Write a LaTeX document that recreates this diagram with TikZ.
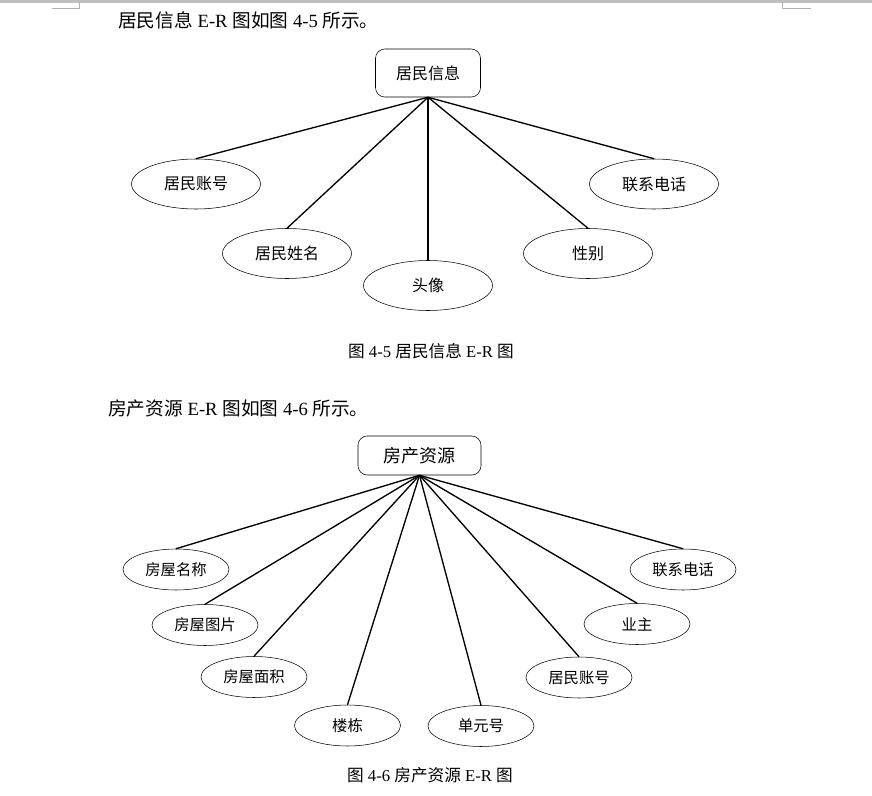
\documentclass[tikz,border=0pt]{standalone}
\usepackage{fontspec}
\setmainfont{Liberation Serif}
\newfontfamily\cjk{Noto Sans CJK SC}
\usetikzlibrary{shapes.geometric}
\begin{document}
\begin{tikzpicture}[x=0.75pt,y=-0.75pt,
  entity/.style={draw, rounded corners=7pt, inner sep=0pt},
  attrbig/.style={draw, ellipse, minimum width=96.75pt, minimum height=37.5pt, inner sep=0pt, font=\cjk\fontsize{12}{14}\selectfont},
  attrsmall/.style={draw, ellipse, minimum width=79.5pt, minimum height=30.75pt, inner sep=0pt, font=\cjk\fontsize{11.5}{14}\selectfont},
  link/.style={line width=1pt},
  bodytext/.style={anchor=west, inner sep=0pt, font=\fontsize{14}{16}\selectfont},
  caption/.style={inner sep=0pt, font=\fontsize{12.5}{15}\selectfont}]
  \useasboundingbox (0,0) rectangle (872,796);
  % page edge
  \draw[gray!50, line width=1.5pt] (0,1.5) -- (872,1.5);
  \draw[gray!60] (52,8) -- (79,8) -- (79,2);
  \draw[gray!60] (811,8) -- (782,8) -- (782,2);

  % figure 4-5
  \node[bodytext] (introA) at (118,20) {{\cjk 居民信息} E-R {\cjk 图如图} 4-5 {\cjk 所示。}};
  \node[entity, minimum width=78.75pt, minimum height=36pt, font=\cjk\fontsize{12}{14}\selectfont] (jm) at (428,73) {居民信息};
  \node[attrbig] (jmzh) at (196,184) {居民账号};
  \node[attrbig] (jmxm) at (287,253.5) {居民姓名};
  \node[attrbig] (jmtx) at (428,285.5) {头像};
  \node[attrbig] (jmxb) at (588,253.5) {性别};
  \node[attrbig] (jmdh) at (654,184) {联系电话};
  \foreach \n in {jmzh,jmxm,jmtx,jmxb,jmdh}
    \draw[link] (jm.south) -- (\n.north);
  \node[caption] (capA) at (431,351) {{\cjk 图} 4-5 {\cjk 居民信息} E-R {\cjk 图}};

  % figure 4-6
  \node[bodytext] (introB) at (108,408) {{\cjk 房产资源} E-R {\cjk 图如图} 4-6 {\cjk 所示。}};
  \node[entity, minimum width=92.25pt, minimum height=29.25pt, font=\cjk\fontsize{13.5}{15}\selectfont] (fc) at (419.5,455.5) {房产资源};
  \node[attrsmall] (fcmc) at (176,569.5) {房屋名称};
  \node[attrsmall] (fctp) at (205,625) {房屋图片};
  \node[attrsmall] (fcmj) at (254,677) {房屋面积};
  \node[attrsmall] (fcld) at (347.5,725.5) {楼栋};
  \node[attrsmall] (fcdy) at (481,726) {单元号};
  \node[attrsmall] (fczh) at (579,677.5) {居民账号};
  \node[attrsmall] (fcyz) at (637,624) {业主};
  \node[attrsmall] (fcdh) at (683,569.5) {联系电话};
  \foreach \n in {fcmc,fctp,fcmj,fcld,fcdy,fczh,fcyz,fcdh}
    \draw[link] (fc.south) -- (\n.north);
  \node[caption] (capB) at (430,775) {{\cjk 图} 4-6 {\cjk 房产资源} E-R {\cjk 图}};
\end{tikzpicture}
\end{document}
